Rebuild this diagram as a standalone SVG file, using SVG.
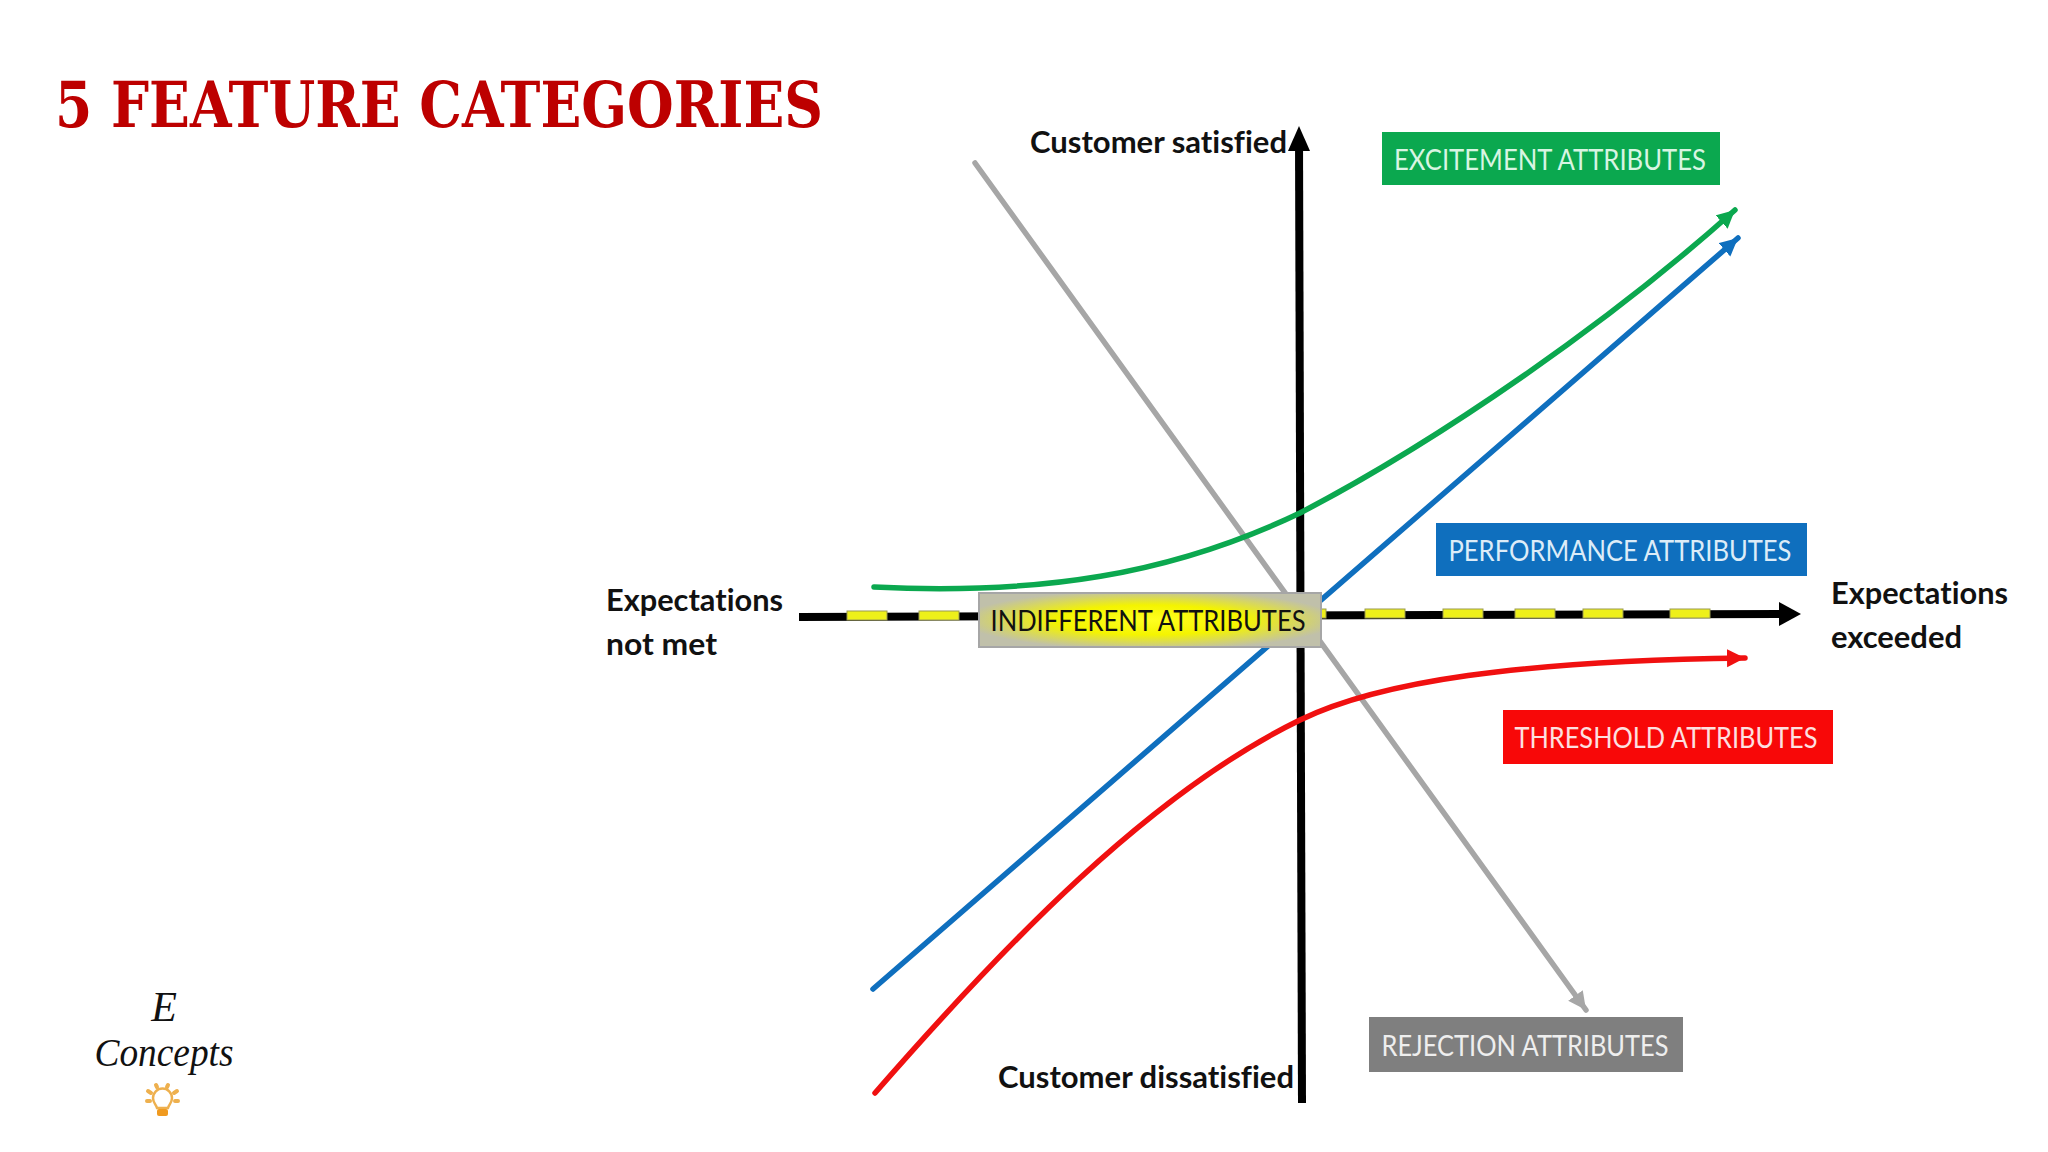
<svg xmlns="http://www.w3.org/2000/svg" width="2048" height="1152" viewBox="0 0 2048 1152">
<style>
text{font-variant-ligatures:none}
.lbl{font-family:Lato,"Open Sans",sans-serif;font-size:29px;text-anchor:middle}
.ax{font-family:Lato,"Open Sans",sans-serif;font-size:30px;font-weight:700;fill:#111}
.c{fill:none;stroke-width:5.500;stroke-linecap:round}
.dash{fill:#eef01a;stroke:#9a9a50;stroke-width:1}
</style>
<defs>
<radialGradient id="ind" cx="0.5" cy="0.5" r="0.55">
<stop offset="0" stop-color="#ffff20"/><stop offset="0.5" stop-color="#f4f400"/><stop offset="1" stop-color="#c0c0aa"/>
</radialGradient>
<marker id="mg" markerUnits="userSpaceOnUse" markerWidth="20" markerHeight="20" refX="18" refY="9" orient="auto"><path d="M0 0L18 9L0 18Z" fill="#0ba84f"/></marker>
<marker id="mb" markerUnits="userSpaceOnUse" markerWidth="20" markerHeight="20" refX="18" refY="9" orient="auto"><path d="M0 0L18 9L0 18Z" fill="#0f6fbe"/></marker>
<marker id="mr" markerUnits="userSpaceOnUse" markerWidth="20" markerHeight="20" refX="18" refY="9" orient="auto"><path d="M0 0L18 9L0 18Z" fill="#f01010"/></marker>
<marker id="my" markerUnits="userSpaceOnUse" markerWidth="20" markerHeight="20" refX="18" refY="9" orient="auto"><path d="M0 0L18 9L0 18Z" fill="#a6a6a6"/></marker>
</defs>
<rect width="2048" height="1152" fill="#fff"/>
<text id="title" x="55" y="127" font-family="'DejaVu Serif',serif" font-weight="700" font-size="63" fill="#bd0000" textLength="768" lengthAdjust="spacingAndGlyphs">5 FEATURE CATEGORIES</text>
<g id="connectors">
<path class="c" stroke="#a6a6a6" marker-end="url(#my)" d="M975 163L1586 1010"/>
<path d="M1302 1103L1299 140" stroke="#000" stroke-width="8" fill="none"/>
<path d="M1288 151L1299 126L1310 151Z" fill="#000"/>
<path d="M799 617L1785 614" stroke="#000" stroke-width="8" fill="none"/>
<path d="M1779 602L1801 614L1779 626Z" fill="#000"/>
<rect class="dash" x="847" y="611" width="40" height="9"/>
<rect class="dash" x="919" y="611" width="40" height="9"/>
<rect class="dash" x="1321" y="609" width="5" height="9"/>
<rect class="dash" x="1365" y="609" width="40" height="9"/>
<rect class="dash" x="1443" y="609" width="40" height="9"/>
<rect class="dash" x="1515" y="609" width="40" height="9"/>
<rect class="dash" x="1583" y="609" width="40" height="9"/>
<rect class="dash" x="1670" y="609" width="40" height="9"/>
<path class="c" stroke="#0f6fbe" marker-end="url(#mb)" d="M873 989L1738 238"/>
<path class="c" stroke="#0ba84f" marker-end="url(#mg)" d="M874 587C1040 595 1170 575 1300 513C1440 440 1610 322 1735 210"/>
<path class="c" stroke="#f01010" marker-end="url(#mr)" d="M875 1093C1005 944 1150 793 1300 720C1380 681 1520 661 1745 658"/>
</g>
<g id="excitement"><rect x="1382" y="132" width="338" height="53" fill="#0ba84f"/><text class="lbl" x="1550" y="170" fill="#d8f5e2" textLength="312" lengthAdjust="spacingAndGlyphs">EXCITEMENT ATTRIBUTES</text></g>
<g id="performance"><rect x="1436" y="523" width="371" height="53" fill="#0f6fbe"/><text class="lbl" x="1620" y="561" fill="#dcecf8" textLength="343" lengthAdjust="spacingAndGlyphs">PERFORMANCE ATTRIBUTES</text></g>
<g id="threshold"><rect x="1503" y="710" width="330" height="54" fill="#f80808"/><text class="lbl" x="1666" y="748" fill="#fde0e0" textLength="303" lengthAdjust="spacingAndGlyphs">THRESHOLD ATTRIBUTES</text></g>
<g id="rejection"><rect x="1369" y="1017" width="314" height="55" fill="#7f7f7f"/><text class="lbl" x="1525" y="1056" fill="#eee" textLength="287" lengthAdjust="spacingAndGlyphs">REJECTION ATTRIBUTES</text></g>
<g id="indifferent"><rect x="979" y="593" width="342" height="54" fill="url(#ind)" stroke="#a6a6a6" stroke-width="2"/><text class="lbl" x="1148" y="631" fill="#111" textLength="315" lengthAdjust="spacingAndGlyphs">INDIFFERENT ATTRIBUTES</text></g>
<text class="ax" x="1030" y="153" textLength="257" lengthAdjust="spacingAndGlyphs">Customer satisfied</text>
<text class="ax" x="998" y="1088" textLength="296" lengthAdjust="spacingAndGlyphs">Customer dissatisfied</text>
<text class="ax" x="606" y="611" textLength="177" lengthAdjust="spacingAndGlyphs">Expectations</text>
<text class="ax" x="606" y="655" textLength="111" lengthAdjust="spacingAndGlyphs">not met</text>
<text class="ax" x="1831" y="604" textLength="177" lengthAdjust="spacingAndGlyphs">Expectations</text>
<text class="ax" x="1831" y="648" textLength="131" lengthAdjust="spacingAndGlyphs">exceeded</text>
<g id="logo">
<text x="164" y="1021" font-family="'Liberation Serif',serif" font-style="italic" font-size="42" text-anchor="middle" fill="#111">E</text>
<text x="164" y="1066" font-family="'Liberation Serif',serif" font-style="italic" font-size="41" text-anchor="middle" fill="#111" textLength="139" lengthAdjust="spacingAndGlyphs">Concepts</text>
<path d="M157 1108C156 1104 153 1103 153 1098A9.500 9.500 0 0 1 172 1098C172 1103 169 1104 168 1108Z" fill="#fff" stroke="#eeb04e" stroke-width="2.500"/>
<rect x="157" y="1109" width="11" height="7" rx="2" fill="#f09a20"/>
<path d="M148 1091L151 1093M156 1085L157 1087M168 1085L167 1087M177 1091L174 1093M147 1101L150 1101M178 1101L175 1101" stroke="#eeb04e" stroke-width="4" stroke-linecap="round" fill="none"/>
</g>
</svg>
